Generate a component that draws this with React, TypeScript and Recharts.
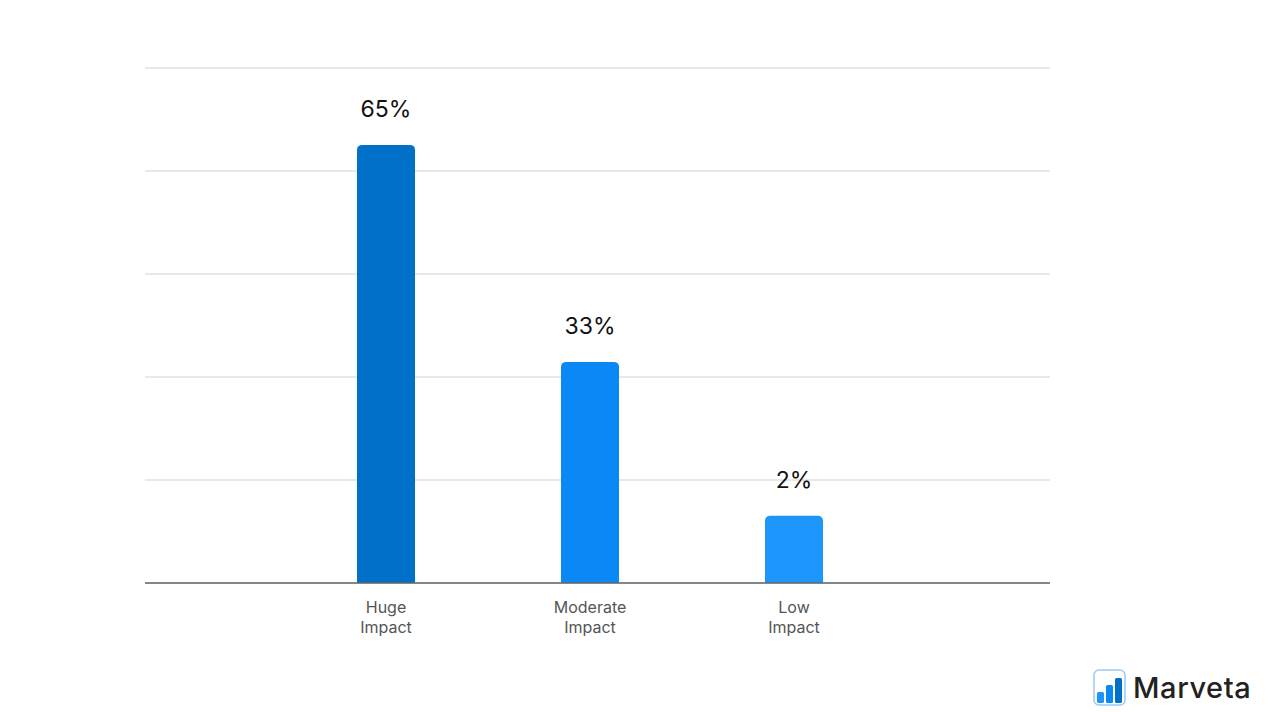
import { BarChart, Bar, XAxis, YAxis, CartesianGrid, Cell, LabelList } from 'recharts'

const categories = ['Huge Impact', 'Moderate Impact', 'Low Impact']
const barHeights = [63.8, 32.2, 9.8]
const valueLabels = ['65%', '33%', '2%']
const gridTicks = [0, 15, 30, 45, 60, 75]

const BAR_COLORS = ['#0070C9', '#0A88F5', '#1C96FB']

const data = categories.map((name, i) => ({ name, value: barHeights[i], label: valueLabels[i] }))

const renderTick = (props: any) => {
  const { x, y, payload } = props
  const words = String(payload.value).split(' ')
  return (
    <g transform={`translate(${x},${y})`}>
      {words.map((w, i) => (
        <text
          key={w}
          x={0}
          y={18 + i * 20}
          textAnchor="middle"
          dominantBaseline="middle"
          fill="#555"
          fontSize={16}
          fontFamily="Inter, Roboto, sans-serif"
        >
          {w}
        </text>
      ))}
    </g>
  )
}

const renderValueLabel = (props: any) => {
  const { x, y, width, value } = props
  return (
    <text
      x={x + width / 2}
      y={y - 34}
      textAnchor="middle"
      dominantBaseline="middle"
      fill="#111"
      fontSize={23}
      fontFamily="Inter, Roboto, sans-serif"
    >
      {value}
    </text>
  )
}

export default function App() {
  return (
    <div style={{ position: 'absolute', left: 0, top: 0, width: 1276, height: 712, background: '#fff' }}>
      <BarChart
        width={1276}
        height={712}
        data={data}
        margin={{ top: 68, right: 226, left: 145, bottom: 99 }}
      >
        <CartesianGrid vertical={false} stroke="#e0e0e0" strokeWidth={1.5} />
        <YAxis hide domain={[0, 75]} ticks={gridTicks} />
        <XAxis
          dataKey="name"
          height={30}
          padding={{ left: 139, right: 154 }}
          stroke="#666"
          strokeWidth={1.5}
          tickLine={false}
          tick={renderTick}
          interval={0}
        />
        <Bar dataKey="value" barSize={58} radius={[5, 5, 0, 0]} isAnimationActive={false}>
          {data.map((d, i) => (
            <Cell key={d.name} fill={BAR_COLORS[i]} />
          ))}
          <LabelList dataKey="label" content={renderValueLabel} />
        </Bar>
      </BarChart>
      <div
        style={{
          position: 'absolute',
          left: 1093,
          top: 669,
          display: 'flex',
          alignItems: 'center',
          gap: 7,
        }}
      >
        <svg width={33} height={37} viewBox="0 0 33 37">
          <rect x={1} y={1} width={31} height={35} rx={5} fill="#fff" stroke="#9cc8f5" strokeWidth={1.5} />
          <rect x={4} y={23} width={7} height={11} rx={1.5} fill="#1C96FB" />
          <rect x={13} y={16} width={7} height={18} rx={1.5} fill="#0A88F5" />
          <rect x={22} y={9} width={7} height={25} rx={1.5} fill="#0070C9" />
        </svg>
        <span style={{ fontFamily: 'Inter, "Noto Sans", sans-serif', fontSize: 29, fontWeight: 500, color: '#222', lineHeight: '37px', letterSpacing: 0.6 }}>
          Marveta
        </span>
      </div>
    </div>
  )
}
